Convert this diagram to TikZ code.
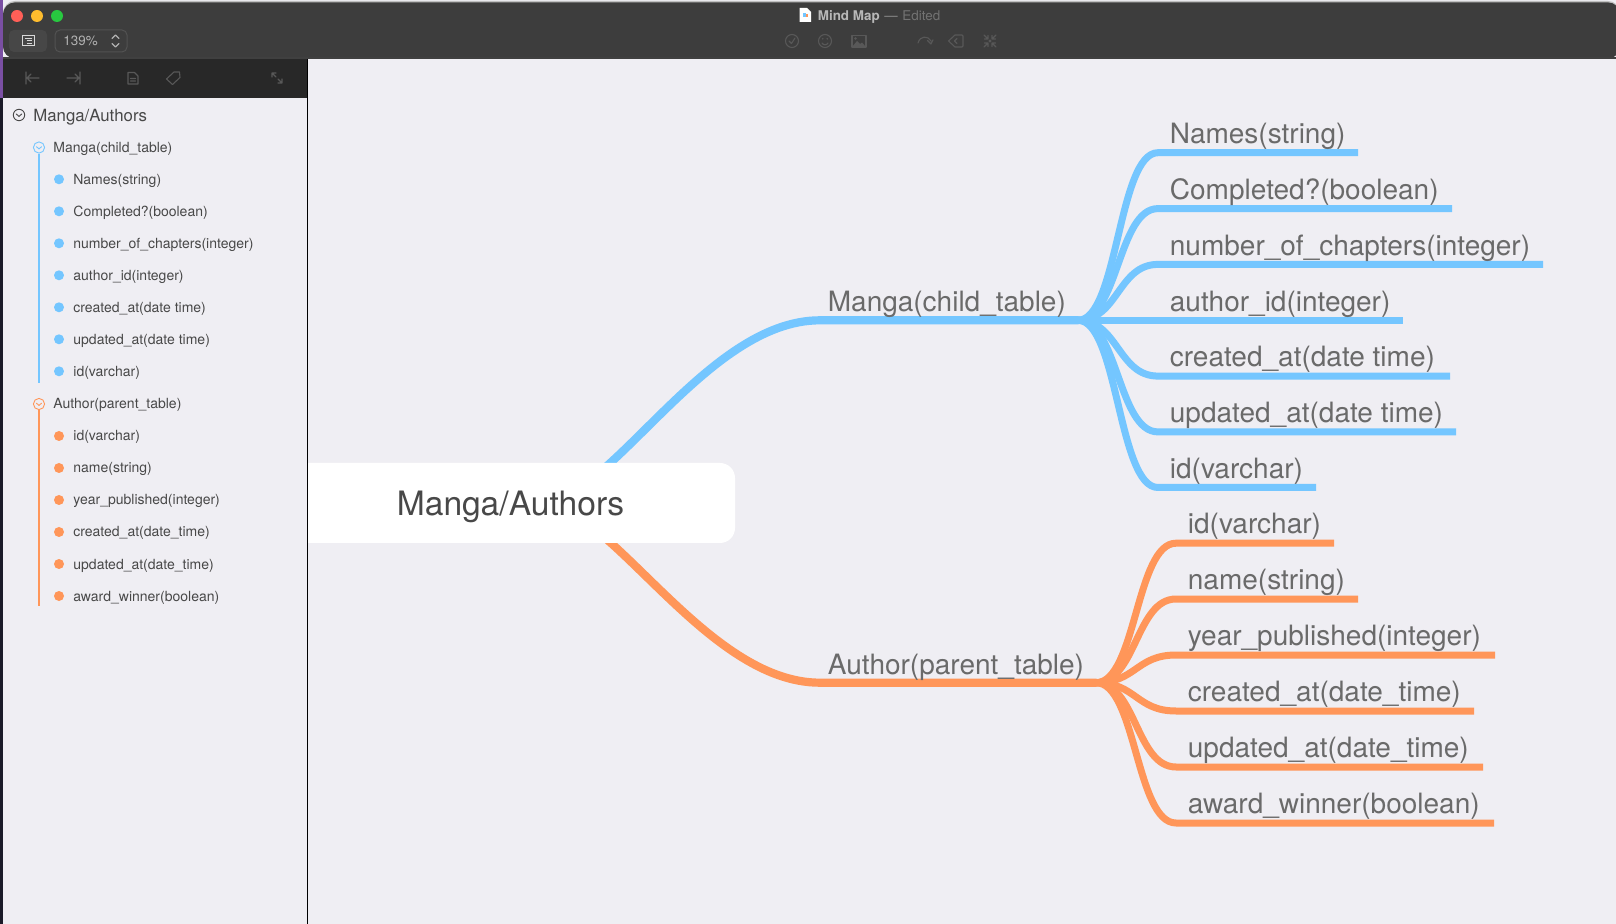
\documentclass[tikz,border=0pt]{standalone}
\usepackage{fontspec}
\setmainfont{TeX Gyre Heros}
\pgfdeclarelayer{canvas}
\pgfdeclarelayer{edges}
\pgfsetlayers{canvas,edges,main}
\definecolor{blueb}{HTML}{74C6FF}
\definecolor{orangeb}{HTML}{FF9659}
\definecolor{canvasc}{HTML}{EFEEF3}
\definecolor{barc}{HTML}{3D3D3D}
\definecolor{sidebarc}{HTML}{282828}
\definecolor{iconc}{HTML}{585858}
\definecolor{leaftext}{HTML}{6A6A6A}
\definecolor{darktext}{HTML}{484848}
\definecolor{edgedark}{HTML}{1B1A28}
\definecolor{purplec}{HTML}{7A4FA3}
\definecolor{lightred}{HTML}{FF5F57}
\definecolor{lightyellow}{HTML}{FEBC2E}
\definecolor{lightgreen}{HTML}{28C840}
\tikzset{
  rootbox/.style={fill=white,draw=none,rounded corners=7.5pt,minimum width=224.5pt,minimum height=40pt,inner sep=0pt,text=darktext,text depth=0pt,font=\fontsize{16.8}{20}\selectfont},
  maplabel/.style={anchor=base west,inner sep=0pt,text=leaftext,font=\fontsize{14}{17}\selectfont},
  trunk/.style={line width=4.1pt,line cap=round},
  twig/.style={line width=3.5pt,line cap=butt},
  sidetitle/.style={anchor=base west,inner sep=0pt,text=darktext,font=\fontsize{8.4}{10}\selectfont},
  sideitem/.style={anchor=base west,inner sep=0pt,text=darktext,font=\fontsize{7}{9}\selectfont},
  tool/.style={draw=iconc,line width=.55pt,fill=none,line cap=round,line join=round},
  bartext/.style={inner sep=0pt,font=\fontsize{6.7}{8}\selectfont},
  dotblue/.style={circle,fill=blueb,inner sep=0pt,minimum size=5pt},
  dotorange/.style={circle,fill=orangeb,inner sep=0pt,minimum size=5pt},
  light/.style={circle,inner sep=0pt,minimum size=6pt},
}
\begin{document}
\begin{tikzpicture}[x=.5pt,y=-.5pt]
\useasboundingbox (0,0) rectangle (1616,924);
\begin{pgfonlayer}{canvas}
  \fill[canvasc] (0,0) rectangle (1616,924);
\end{pgfonlayer}

% ---- mind map
\node[rootbox] (root) at (510.5,503) {Manga/Authors};
\node[maplabel] (manga) at (827.5,311.5) {Manga(child\_table)};
\node[maplabel] (author) at (827.5,674.5) {Author(parent\_table)};
\coordinate (rootout) at (540,503);
\coordinate (mangastart) at (820,320.3);
\coordinate (mangafork) at (1078,320.3);
\coordinate (authorstart) at (820,682.7);
\coordinate (authorfork) at (1096,682.7);
\begin{pgfonlayer}{edges}
  \draw[trunk,blueb] (root.center) -- (rootout) .. controls (610,503) and (705,320.3) .. (mangastart) -- (mangafork);
  \draw[trunk,orangeb] (root.center) -- (rootout) .. controls (610,503) and (705,682.7) .. (authorstart) -- (authorfork);
\end{pgfonlayer}

\foreach \n/\y/\e/\t in {
  a/152.7/1358/Names(string),
  b/208.6/1452/Completed?(boolean),
  c/264.4/1543/number\_of\_chapters(integer),
  d/320.3/1403/author\_id(integer),
  e/376.1/1450/created\_at(date time),
  f/431.9/1456/updated\_at(date time),
  g/487.5/1316/id(varchar)}{
  \node[maplabel] (m\n) at (1169.5,\y-9.2) {\t};
  \coordinate (me\n) at (\e,\y);
  \coordinate (ms\n) at (1158,\y);
  \begin{pgfonlayer}{edges}
    \draw[twig,blueb] (mangafork) .. controls (1118,320.3) and (1118,\y) .. (ms\n) -- (me\n);
  \end{pgfonlayer}
}
\foreach \n/\y/\e/\t in {
  a/543.2/1334/id(varchar),
  b/599/1358/name(string),
  c/655/1495/year\_published(integer),
  d/711/1474/created\_at(date\_time),
  e/767/1483/updated\_at(date\_time),
  f/823/1494/award\_winner(boolean)}{
  \node[maplabel] (o\n) at (1187.5,\y-9.2) {\t};
  \coordinate (oe\n) at (\e,\y);
  \coordinate (os\n) at (1176,\y);
  \begin{pgfonlayer}{edges}
    \draw[twig,orangeb] (authorfork) .. controls (1136,682.7) and (1136,\y) .. (os\n) -- (oe\n);
  \end{pgfonlayer}
}

% ---- window chrome
\fill[canvasc] (3,98) rectangle (307,924);
\fill[black] (307,58) rectangle (308,924);
\fill[edgedark] (0,0) rectangle (3,924);
\fill[purplec] (0,0) rectangle (3,98);
\fill[black!25,rounded corners=6pt] (3,58) -- (3,1) -- (1620,1) -- (1620,58) -- cycle;
\fill[barc,rounded corners=6pt] (3,58.5) -- (3,2.4) -- (1620,2.4) -- (1620,58.5) -- cycle;
\fill[black!75] (3,57.5) rectangle (1616,59);
\fill[sidebarc] (3,59) rectangle (307,98);

% traffic lights
\node[light,fill=lightred] (lr) at (17,16) {};
\node[light,fill=lightyellow] (ly) at (37,16) {};
\node[light,fill=lightgreen] (lg) at (57,16) {};

% view button + zoom box
\fill[black!72,rounded corners=2.5pt] (9,30) rectangle (47,52);
\draw[black!15,line width=.5pt] (22.5,35.5) rectangle (34,46);
\draw[black!15,line width=.4pt] (24.5,38)--(32,38) (26.5,40.7)--(32,40.7) (26.5,43.3)--(32,43.3);
\draw[black!68,line width=.5pt,rounded corners=2.5pt] (55,30) rectangle (127,52);
\node[bartext,text=black!30,anchor=base west] (zoomlabel) at (63,45.5) {139\%};
\draw[black!30,line width=.6pt,line cap=round,line join=round] (112,38.5)--(115.5,35)--(119,38.5) (112,43.5)--(115.5,47)--(119,43.5);

% title
\node[bartext,text=black!28,anchor=base west,font=\fontsize{6.7}{8}\selectfont\bfseries] (title) at (817.5,20.5) {Mind Map};
\node[bartext,text=black!45,anchor=base west] (titledash) at (884,20.5) {—};
\node[bartext,text=black!55,anchor=base west] (titleedit) at (902,20.5) {Edited};
\fill[white] (799.5,8) -- (807,8) -- (811,12) -- (811,22) -- (799.5,22) -- cycle;
\fill[blueb] (803,13) rectangle (806,17);
\fill[orangeb] (806,14) rectangle (808,17);

% title toolbar icons
\draw[tool] (792,41) circle[radius=6.5] (789,41) -- (791.5,43.5) -- (795,38);
\draw[tool] (825,41) circle[radius=6.5] (822,43) .. controls (823.5,45.5) and (826.5,45.5) .. (828,43);
\fill[iconc] (822.7,38.8) circle[radius=.9] (827.3,38.8) circle[radius=.9];
\draw[tool] (852,35.5) rectangle (866,47);
\fill[iconc] (852,47) -- (857,41) -- (860,44) -- (862,42.5) -- (866,47) -- cycle (855.5,38.5) circle[radius=1.3];
\draw[tool] (918,43) .. controls (920,35.5) and (928,35.5) .. (931,41) (927.5,40.5) -- (931,44) -- (933,39.8);
\draw[tool] (948.5,41) -- (955,35) -- (962,35) .. controls (963,35) and (963,35) .. (963,36) -- (963,46) -- (962,47) -- (955,47) -- cycle (957,38.5) -- (954.5,41) -- (957,43.5);
\draw[tool] (984,35) -- (988,39) (984.5,39) -- (988,39) -- (988,35.5) (996,35) -- (992,39) (995.5,39) -- (992,39) -- (992,35.5)
  (984,47) -- (988,43) (984.5,43) -- (988,43) -- (988,46.5) (996,47) -- (992,43) (995.5,43) -- (992,43) -- (992,46.5);
\fill[iconc] (990,41) circle[radius=1.6];

% sidebar toolbar icons
\draw[tool] (39,78) -- (27,78) (31,74) -- (27,78) -- (31,82) (26,72) -- (26,84);
\draw[tool] (67,78) -- (79,78) (75,74) -- (79,78) -- (75,82) (80,72) -- (80,84);
\draw[tool] (128,72.5) -- (134.5,72.5) -- (138,76) -- (138,84) -- (128,84) -- cycle (130.5,78.5) -- (135.5,78.5) (130.5,81) -- (135.5,81);
\draw[tool] (166.5,79) -- (174,72) -- (179.5,72) -- (180,77.5) -- (172.5,84.5) -- cycle;
\draw[tool] (272,73) -- (276,77) (278,79) -- (282,83) (272,77) -- (272,73) -- (276,73) (282,79) -- (282,83) -- (278,83);

% sidebar tree
\draw[darktext,line width=.45pt] (19,115) circle[radius=5.7];
\draw[darktext,line width=.45pt,line cap=round,line join=round] (16.3,114) -- (19,116.5) -- (21.7,114);
\node[sidetitle] (sidetop) at (33,121.5) {Manga/Authors};

\node[draw=blueb,line width=.45pt,circle,inner sep=0pt,minimum size=5.6pt] (sbm) at (39,147.5) {};
\draw[blueb,line width=.45pt,line cap=round,line join=round] (36.5,146.7) -- (39,149) -- (41.5,146.7);
\coordinate (sbmend) at (39,383);
\draw[blueb,line width=.9pt] (sbm.south) -- (sbmend);
\node[sideitem] (sbmt) at (53,152.5) {Manga(child\_table)};
\foreach \n/\y/\t in {
  a/179.3/Names(string),
  b/211.3/Completed?(boolean),
  c/243.3/number\_of\_chapters(integer),
  d/275.3/author\_id(integer),
  e/307.3/created\_at(date time),
  f/339.3/updated\_at(date time),
  g/371.3/id(varchar)}{
  \node[dotblue] (sm\n) at (59,\y) {};
  \node[sideitem] (smt\n) at (73,\y+5) {\t};
}
\node[draw=orangeb,line width=.45pt,circle,inner sep=0pt,minimum size=5.6pt] (sbo) at (39,404) {};
\draw[orangeb,line width=.45pt,line cap=round,line join=round] (36.5,403.2) -- (39,405.5) -- (41.5,403.2);
\coordinate (sboend) at (39,606);
\draw[orangeb,line width=.9pt] (sbo.south) -- (sboend);
\node[sideitem] (sbot) at (53,409) {Author(parent\_table)};
\foreach \n/\y/\t in {
  a/436/id(varchar),
  b/468/name(string),
  c/500/year\_published(integer),
  d/532/created\_at(date\_time),
  e/564/updated\_at(date\_time),
  f/596/award\_winner(boolean)}{
  \node[dotorange] (so\n) at (59,\y) {};
  \node[sideitem] (sot\n) at (73,\y+5) {\t};
}
\end{tikzpicture}
\end{document}
